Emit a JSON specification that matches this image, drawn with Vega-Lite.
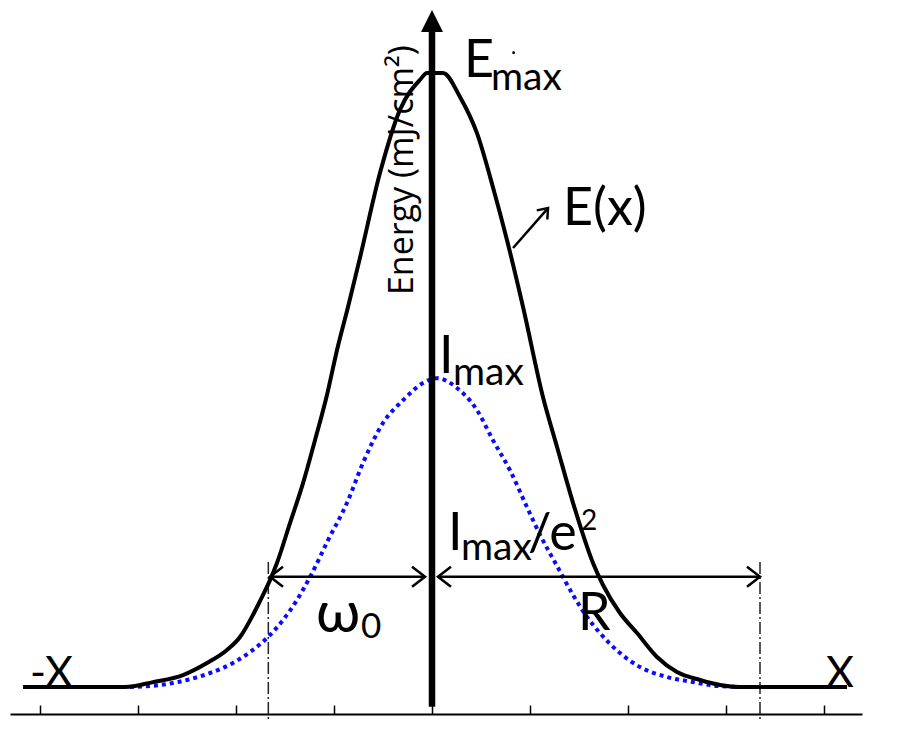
{
  "$schema": "https://vega.github.io/schema/vega-lite/v6.json",
  "width": 852,
  "height": 714,
  "autosize": {"type": "none"},
  "padding": {"left": 10, "top": 0, "right": 36, "bottom": 22},
  "background": "white",
  "config": {"view": {"stroke": null}},
  "datasets": {
    "energy": [
      {"pos": -4.173, "val": 0}, {"pos": -3.133, "val": 0}, {"pos": -2.847, "val": 0.008},
      {"pos": -2.541, "val": 0.0195}, {"pos": -2.296, "val": 0.0391}, {"pos": -2.092, "val": 0.0603},
      {"pos": -1.959, "val": 0.0814}, {"pos": -1.827, "val": 0.1173}, {"pos": -1.755, "val": 0.14},
      {"pos": -1.653, "val": 0.174}, {"pos": -1.582, "val": 0.202},
      {"pos": -1.449, "val": 0.267}, {"pos": -1.316, "val": 0.332}, {"pos": -1.194, "val": 0.402},
      {"pos": -1.071, "val": 0.476}, {"pos": -0.969, "val": 0.549}, {"pos": -0.857, "val": 0.619},
      {"pos": -0.735, "val": 0.699}, {"pos": -0.531, "val": 0.837}, {"pos": -0.327, "val": 0.94},
      {"pos": -0.122, "val": 0.989}, {"pos": -0.051, "val": 1.0}, {"pos": 0.112, "val": 1.0},
      {"pos": 0.286, "val": 0.961}, {"pos": 0.459, "val": 0.902}, {"pos": 0.622, "val": 0.814},
      {"pos": 0.765, "val": 0.728}, {"pos": 0.929, "val": 0.619}, {"pos": 1.133, "val": 0.472},
      {"pos": 1.276, "val": 0.391}, {"pos": 1.439, "val": 0.3}, {"pos": 1.643, "val": 0.202},
      {"pos": 1.745, "val": 0.1661}, {"pos": 1.918, "val": 0.1205}, {"pos": 2.092, "val": 0.0879},
      {"pos": 2.296, "val": 0.0489}, {"pos": 2.5, "val": 0.0244}, {"pos": 2.735, "val": 0.0114},
      {"pos": 2.939, "val": 0.0033}, {"pos": 3.143, "val": 0}, {"pos": 4.235, "val": 0}
    ],
    "intensity": [
      {"pos": -3.082, "val": 0}, {"pos": -2.776, "val": 0.0033}, {"pos": -2.5, "val": 0.0114},
      {"pos": -2.265, "val": 0.0228}, {"pos": -2.031, "val": 0.0391}, {"pos": -1.857, "val": 0.057},
      {"pos": -1.684, "val": 0.0798}, {"pos": -1.52, "val": 0.1091}, {"pos": -1.378, "val": 0.1417},
      {"pos": -1.245, "val": 0.179}, {"pos": -1.061, "val": 0.239}, {"pos": -0.867, "val": 0.3},
      {"pos": -0.704, "val": 0.365}, {"pos": -0.5, "val": 0.43}, {"pos": -0.296, "val": 0.467},
      {"pos": -0.092, "val": 0.495}, {"pos": 0.051, "val": 0.503}, {"pos": 0.255, "val": 0.487},
      {"pos": 0.459, "val": 0.451}, {"pos": 0.622, "val": 0.402}, {"pos": 0.796, "val": 0.353},
      {"pos": 0.969, "val": 0.293}, {"pos": 1.102, "val": 0.248}, {"pos": 1.276, "val": 0.197},
      {"pos": 1.439, "val": 0.15}, {"pos": 1.582, "val": 0.114}, {"pos": 1.714, "val": 0.0879},
      {"pos": 1.918, "val": 0.0554}, {"pos": 2.122, "val": 0.0326}, {"pos": 2.398, "val": 0.0163},
      {"pos": 2.663, "val": 0.0081}, {"pos": 2.908, "val": 0.0016}, {"pos": 3.173, "val": 0}
    ],
    "guides": [
      {"pos": -1.67, "val": 0.2036, "val2": -0.0537},
      {"pos": 3.347, "val": 0.2036, "val2": -0.0537}
    ],
    "spans": [
      {"pos": -1.653, "pos2": -0.071, "val": 0.1796},
      {"pos": 0.061, "pos2": 3.347, "val": 0.1796}
    ],
    "headsLeft": [{"pos": -1.653, "val": 0.1796}, {"pos": 0.061, "val": 0.1796}],
    "headsRight": [{"pos": -0.071, "val": 0.1796}, {"pos": 3.347, "val": 0.1796}],
    "pointer": [{"pos": 0.827, "val": 0.715, "pos2": 1.184, "val2": 0.78}],
    "pointerHead": [{"pos": 1.184, "val": 0.78}],
    "yAxis": [{"pos": 0, "val": -0.032, "val2": 1.07}],
    "yAxisHead": [{"pos": 0, "val": 1.0847}],
    "mainText": [
      {"label": "E", "pos": 0.327, "val": 0.9935},
      {"label": "E(x)", "pos": 1.337, "val": 0.7524},
      {"label": "I", "pos": 0.071, "val": 0.5114},
      {"label": "I", "pos": 0.163, "val": 0.2231},
      {"label": "/e", "pos": 0.98, "val": 0.2231},
      {"label": "R", "pos": 1.49, "val": 0.0928}
    ],
    "subText": [
      {"label": "max", "pos": 0.602, "val": 0.9723},
      {"label": "max", "pos": 0.214, "val": 0.4919},
      {"label": "max", "pos": 0.296, "val": 0.2068}
    ],
    "endText": [
      {"label": "-X", "pos": -4.102, "val": 0},
      {"label": "X", "pos": 4.02, "val": 0}
    ],
    "omega": [{"label": "ω", "pos": -1.184, "val": 0.0896}],
    "omegaSub": [{"label": "0", "pos": -0.724, "val": 0.0798}],
    "square": [{"label": "2", "pos": 1.52, "val": 0.2557}],
    "yTitle": [{"label": "Energy (mJ/cm²)", "pos": -0.194, "val": 0.6384}],
    "speck": [{"pos": 0.833, "val": 1.033}]
  },
  "encoding": {
    "x": {
      "field": "pos",
      "type": "quantitative",
      "scale": {"domain": [-4.3061, 4.3878], "nice": false, "zero": false},
      "axis": {
        "values": [-4, -3, -2, -1, 0, 1, 2, 3, 4],
        "labels": false,
        "title": null,
        "grid": false,
        "tickSize": -9,
        "tickWidth": 1.5,
        "tickColor": "black",
        "domainColor": "black",
        "domainWidth": 2
      }
    },
    "y": {
      "field": "val",
      "type": "quantitative",
      "scale": {"domain": [-0.04397, 1.11889], "nice": false, "zero": false},
      "axis": null
    }
  },
  "layer": [
    {
      "data": {"name": "guides"},
      "mark": {"type": "rule", "color": "#222222", "strokeWidth": 1.5, "strokeDash": [12, 3, 2, 3]},
      "encoding": {"y2": {"field": "val2"}}
    },
    {
      "data": {"name": "intensity"},
      "mark": {"type": "line", "color": "#0a0aff", "strokeWidth": 4, "strokeDash": [4, 4], "interpolate": "monotone"}
    },
    {
      "data": {"name": "energy"},
      "mark": {"type": "line", "color": "black", "strokeWidth": 4, "interpolate": "monotone"}
    },
    {
      "data": {"name": "spans"},
      "mark": {"type": "rule", "color": "black", "strokeWidth": 2.5},
      "encoding": {"x2": {"field": "pos2"}}
    },
    {
      "data": {"name": "headsLeft"},
      "mark": {"type": "point", "shape": "M1.3,-1L0,0L1.3,1", "size": 400, "filled": false, "stroke": "black", "strokeWidth": 2.5, "opacity": 1}
    },
    {
      "data": {"name": "headsRight"},
      "mark": {"type": "point", "shape": "M-1.3,-1L0,0L-1.3,1", "size": 400, "filled": false, "stroke": "black", "strokeWidth": 2.5, "opacity": 1}
    },
    {
      "data": {"name": "pointer"},
      "mark": {"type": "rule", "color": "black", "strokeWidth": 2.5},
      "encoding": {"x2": {"field": "pos2"}, "y2": {"field": "val2"}}
    },
    {
      "data": {"name": "pointerHead"},
      "mark": {"type": "point", "shape": "M-1.3,-1L0,0L-1.3,1", "size": 196, "angle": -49, "filled": false, "stroke": "black", "strokeWidth": 2.5, "opacity": 1}
    },
    {
      "data": {"name": "yAxis"},
      "mark": {"type": "rule", "color": "black", "strokeWidth": 6.5},
      "encoding": {"y2": {"field": "val2"}}
    },
    {
      "data": {"name": "yAxisHead"},
      "mark": {"type": "point", "shape": "M-1,1L1,1L0,-1Z", "size": 484, "filled": true, "color": "black", "opacity": 1}
    },
    {
      "data": {"name": "speck"},
      "mark": {"type": "point", "shape": "circle", "size": 8, "filled": true, "color": "black", "opacity": 1}
    },
    {
      "data": {"name": "mainText"},
      "mark": {"type": "text", "align": "left", "baseline": "alphabetic", "fontSize": 52, "font": "Lato", "color": "black"},
      "encoding": {"text": {"field": "label"}}
    },
    {
      "data": {"name": "subText"},
      "mark": {"type": "text", "align": "left", "baseline": "alphabetic", "fontSize": 39, "font": "Lato", "color": "black"},
      "encoding": {"text": {"field": "label"}}
    },
    {
      "data": {"name": "endText"},
      "mark": {"type": "text", "align": "left", "baseline": "alphabetic", "fontSize": 43, "font": "Lato", "color": "black"},
      "encoding": {"text": {"field": "label"}}
    },
    {
      "data": {"name": "omega"},
      "mark": {"type": "text", "align": "left", "baseline": "alphabetic", "fontSize": 58, "font": "Lato", "color": "black"},
      "encoding": {"text": {"field": "label"}}
    },
    {
      "data": {"name": "omegaSub"},
      "mark": {"type": "text", "align": "left", "baseline": "alphabetic", "fontSize": 35, "font": "Lato", "color": "black"},
      "encoding": {"text": {"field": "label"}}
    },
    {
      "data": {"name": "square"},
      "mark": {"type": "text", "align": "left", "baseline": "alphabetic", "fontSize": 28, "font": "Lato", "color": "black"},
      "encoding": {"text": {"field": "label"}}
    },
    {
      "data": {"name": "yTitle"},
      "mark": {"type": "text", "align": "left", "baseline": "alphabetic", "angle": 270, "fontSize": 34, "font": "Open Sans", "color": "black"},
      "encoding": {"text": {"field": "label"}}
    }
  ]
}
